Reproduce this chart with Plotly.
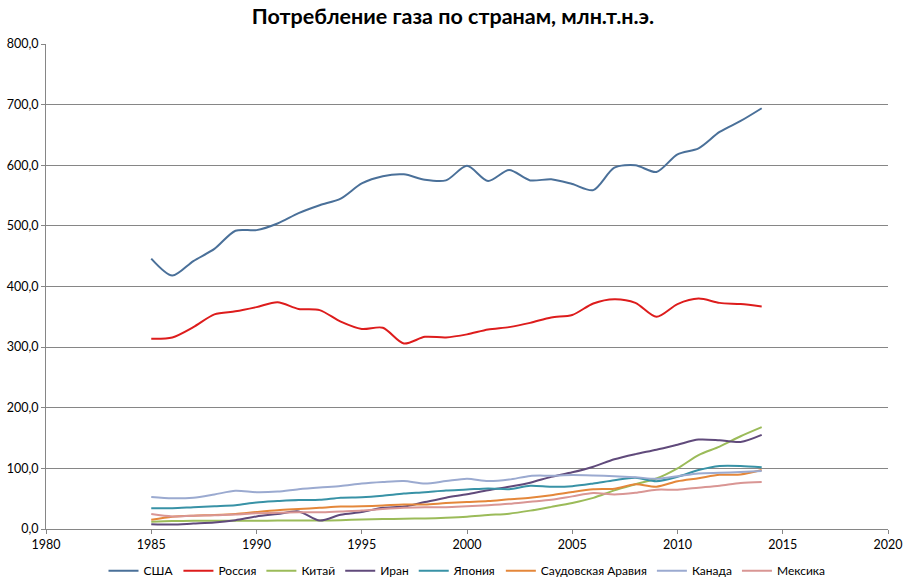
import plotly.graph_objects as go

years = list(range(1985, 2015))

usa = [446, 418, 442, 462, 492, 493, 504, 521, 534, 545, 570, 582, 585, 576, 575,
       599, 574, 592, 575, 577, 569, 559, 596, 600, 589, 618, 628, 655, 673, 694]
russia = [314, 316, 333, 354, 359, 366, 374, 363, 361, 342, 330, 332, 306, 317, 316,
          321, 329, 333, 340, 349, 353, 372, 379, 373, 350, 371, 380, 373, 371, 367]
china = [11.8, 13, 13.5, 13.5, 13.5, 13.5, 14, 14, 14, 14.5, 15.7, 16.3, 17, 17.4, 18.5,
         20.2, 23, 25.3, 30.3, 36.5, 43, 51.4, 63.7, 73.7, 83.2, 100, 122, 136, 153, 168]
iran = [8, 7.3, 9, 10.7, 14.6, 20.8, 24.7, 29, 14, 23.6, 28, 35, 37, 44.4, 51.7,
        57.3, 64, 69.7, 76.4, 86, 93.5, 102.8, 115, 123.5, 130.7, 139, 147.5, 146.4, 143.6, 155.3]
japan = [34.3, 34.3, 36, 37.6, 39.3, 43.8, 46, 47.8, 48.3, 51.7, 52.5, 55, 58.4, 60.7, 63.5,
         65, 67, 65.7, 71.3, 69.7, 70.6, 75, 80.4, 84.4, 78.8, 86, 97.2, 104, 104, 101.7]
saudi = [15.2, 20.2, 22, 23, 24.7, 28, 31, 33, 35, 37, 37.5, 38.8, 40.4, 40.4, 42.7,
         44.4, 46, 49, 51.7, 55.6, 61, 65.4, 66.5, 73.7, 69.8, 78.8, 83.8, 89.4, 90, 97.2]
canada = [52.8, 50.6, 51.7, 57, 63, 60.7, 61.8, 65.7, 68.5, 70.8, 75, 77.5, 79, 75, 79,
          83, 79, 81.5, 87.6, 88, 89, 88.3, 87, 85.5, 82.7, 87, 91.6, 92.7, 93.9, 95.5]
mexico = [24.7, 20.8, 22, 22.5, 24, 26, 27, 27.5, 27.5, 29, 30.5, 33, 35, 36, 36,
          37.6, 39.3, 41.6, 45, 48.3, 53.8, 59.2, 57, 59.8, 64.8, 64.8, 68.2, 71.5, 76, 77.7]

series = [
    ('США', usa, '#4A7099'),
    ('Россия', russia, '#DD1C1C'),
    ('Китай', china, '#9BBB59'),
    ('Иран', iran, '#604A7B'),
    ('Япония', japan, '#3892A6'),
    ('Саудовская Аравия', saudi, '#E4873A'),
    ('Канада', canada, '#9BAAD0'),
    ('Мексика', mexico, '#D99694'),
]

fig = go.Figure()
for name, vals, color in series:
    fig.add_trace(go.Scatter(x=years, y=vals, name=name, mode='lines',
                             line=dict(color=color, width=2, shape='spline', smoothing=0.8)))

fig.update_layout(
    width=906, height=583,
    margin=dict(l=46, r=18, t=44, b=54, autoexpand=False),
    paper_bgcolor='white', plot_bgcolor='white',
    font=dict(family='Lato, Open Sans, sans-serif', size=12.5, color='black'),
    separators=', ',
    title=dict(text='<b>Потребление газа по странам, млн.т.н.э.</b>',
               x=0.5, xanchor='center', y=0.972, yanchor='middle',
               font=dict(size=21.5, family='Lato, Open Sans, sans-serif')),
    legend=dict(orientation='h', x=0.5, xanchor='center', y=0.021, yanchor='middle',
                yref='container', font=dict(size=12), itemwidth=30, tracegroupgap=0),
)
fig.update_xaxes(range=[1980, 2020], dtick=5, tick0=1980, showgrid=False,
                 showline=True, linecolor='#868686', ticks='outside', ticklen=4,
                 tickcolor='#868686', zeroline=False)
fig.update_yaxes(range=[0, 800], dtick=100, tickformat='.1f', showgrid=True,
                 gridcolor='#868686', gridwidth=1, showline=True, linecolor='#868686',
                 ticks='outside', ticklen=4, tickcolor='#868686', zeroline=False)

# drop the default 8px body margin so the figure fills the window
fig.write_html('out.html', config={'displayModeBar': False},
               post_script="document.body.style.margin='0';")
